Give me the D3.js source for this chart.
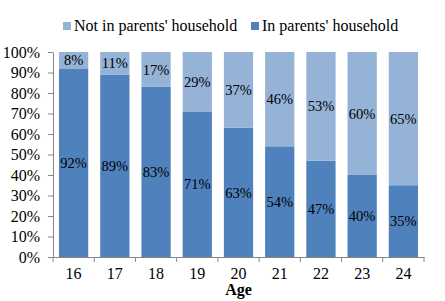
<!DOCTYPE html>
<html>
<head>
<meta charset="utf-8">
<script src="https://cdn.jsdelivr.net/npm/d3@7"></script>
<style>
    body { margin: 0; background: #fff; }
</style>
</head>
<body>
<div id="chart"></div>
<script>
var ages = ["16", "17", "18", "19", "20", "21", "22", "23", "24"];
var inParents = [92, 89, 83, 71, 63, 54, 47, 40, 35];
var notInParents = [8, 11, 17, 29, 37, 46, 53, 60, 65];
var yTicks = [0, 10, 20, 30, 40, 50, 60, 70, 80, 90, 100];
var seriesNames = ["Not in parents' household", "In parents' household"];
var seriesColors = ["#95b3d7", "#4f81bd"];

var width = 445, height = 301;
var margin = { top: 52, right: 21, bottom: 44, left: 53 };
var serif = "'Liberation Serif', 'Times New Roman', Times, serif";

var svg = d3.select("#chart").append("svg")
    .attr("width", width)
    .attr("height", height)
    .style("font-family", serif);

var x = d3.scaleBand()
    .domain(ages)
    .range([margin.left, width - margin.right])
    .paddingInner(0.29)
    .paddingOuter(0.145);

var y = d3.scaleLinear()
    .domain([0, 100])
    .range([height - margin.bottom, margin.top]);

// bars: dark segment at bottom, light on top
ages.forEach(function (a, i) {
    var low = inParents[i];
    svg.append("rect")
        .attr("x", x(a))
        .attr("y", y(low))
        .attr("width", x.bandwidth())
        .attr("height", y(0) - y(low))
        .attr("fill", seriesColors[1]);
    svg.append("rect")
        .attr("x", x(a))
        .attr("y", y(100))
        .attr("width", x.bandwidth())
        .attr("height", y(low) - y(100))
        .attr("fill", seriesColors[0]);

    svg.append("text")
        .attr("x", x(a) + x.bandwidth() / 2)
        .attr("y", y(low / 2))
        .attr("dy", "0.35em")
        .attr("text-anchor", "middle")
        .style("font-family", serif)
        .style("font-size", "14.5px")
        .text(low + "%");
    svg.append("text")
        .attr("x", x(a) + x.bandwidth() / 2)
        .attr("y", y(low + notInParents[i] / 2))
        .attr("dy", "0.35em")
        .attr("text-anchor", "middle")
        .style("font-family", serif)
        .style("font-size", "14.5px")
        .text(notInParents[i] + "%");
});

// y axis
var yAxis = svg.append("g")
    .attr("transform", "translate(" + margin.left + ",0)")
    .call(d3.axisLeft(y).tickValues(yTicks).tickFormat(function (d) { return d + "%"; }).tickSize(5).tickSizeOuter(0));
yAxis.attr("font-family", null);
yAxis.selectAll("text")
    .style("font-family", serif)
    .style("font-size", "16px")
    .attr("fill", "#000")
    .attr("x", -13);

// x axis with ticks at band edges
var xAxis = svg.append("g")
    .attr("transform", "translate(0," + y(0) + ")")
    .call(d3.axisBottom(x).tickSize(0).tickSizeOuter(0));
xAxis.attr("font-family", null);
xAxis.selectAll("text")
    .style("font-family", serif)
    .style("font-size", "16px")
    .attr("fill", "#000")
    .attr("y", 11);
var step = x.step();
var edges = d3.range(ages.length + 1).map(function (i) { return margin.left + i * step; });
xAxis.selectAll(".edge")
    .data(edges)
    .enter().append("line")
    .attr("x1", function (d) { return d; })
    .attr("x2", function (d) { return d; })
    .attr("y1", 0)
    .attr("y2", 5);

svg.selectAll(".domain, .tick line, g line").attr("stroke", "#868686");

svg.append("text")
    .attr("x", (margin.left + width - margin.right) / 2)
    .attr("y", 295)
    .attr("text-anchor", "middle")
    .style("font-family", serif)
    .style("font-size", "16px")
    .style("font-weight", "bold")
    .text("Age");

// legend
var legendX = [63, 251];
seriesNames.forEach(function (name, i) {
    svg.append("rect")
        .attr("x", legendX[i])
        .attr("y", 22)
        .attr("width", 8)
        .attr("height", 8)
        .attr("fill", seriesColors[i]);
    svg.append("text")
        .attr("x", legendX[i] + 11)
        .attr("y", 30.5)
        .style("font-family", serif)
        .style("font-size", "16px")
        .text(name);
});
</script>
</body>
</html>
